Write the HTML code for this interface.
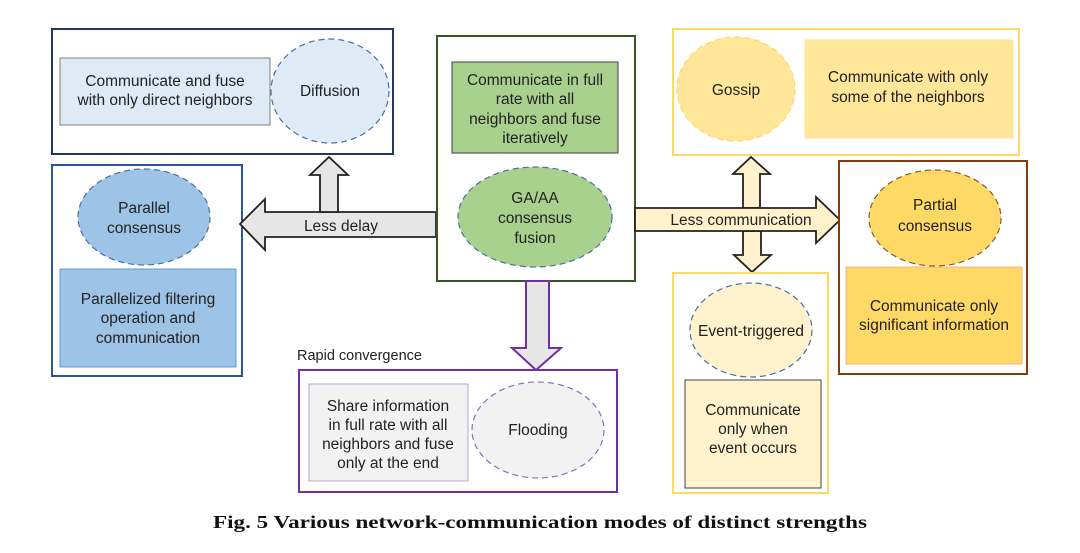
<!DOCTYPE html>
<html><head><meta charset="utf-8"><style>
html,body{margin:0;padding:0;background:#fff;}
svg{display:block;font-family:"Liberation Sans",Arial,sans-serif;}
text{fill:#222;font-size:15.5px;text-anchor:middle;}
</style></head><body>
<svg width="1080" height="553" viewBox="0 0 1080 553" xmlns="http://www.w3.org/2000/svg">
<!-- Diffusion -->
<rect x="52" y="29" width="341" height="125" fill="#fff" stroke="#1f3864" stroke-width="2"/>
<rect x="60" y="58" width="210" height="67" fill="#deebf7" stroke="#7f7f7f" stroke-width="1"/>
<text x="165" y="86">Communicate and fuse</text>
<text x="165" y="105">with only direct neighbors</text>
<ellipse cx="330" cy="91" rx="59" ry="52" fill="#deebf7" stroke="#4a6fa5" stroke-width="1.2" stroke-dasharray="6,4"/>
<text x="330" y="96">Diffusion</text>

<!-- Parallel -->
<rect x="52" y="165" width="190" height="211" fill="#fff" stroke="#2e5597" stroke-width="2"/>
<ellipse cx="144" cy="217" rx="66" ry="48" fill="#9dc3e6" stroke="#4a6fa5" stroke-width="1.2" stroke-dasharray="6,4"/>
<text x="144" y="213">Parallel</text>
<text x="144" y="233">consensus</text>
<rect x="60" y="269" width="176" height="98" fill="#9dc3e6" stroke="#5b9bd5" stroke-width="1"/>
<text x="148" y="304">Parallelized filtering</text>
<text x="148" y="323">operation and</text>
<text x="148" y="343">communication</text>

<!-- Left arrow -->
<polygon points="436,212 265,212 265,199 240,224 265,250 265,237 436,237" fill="#e7e6e6" stroke="#222" stroke-width="1.8"/>
<text x="341" y="231">Less delay</text>
<!-- Up arrow -->
<polygon points="320,212 320,175 310,175 329,157 348,175 338,175 338,212" fill="#e7e6e6" stroke="#222" stroke-width="1.8"/>

<!-- Green -->
<rect x="437" y="36" width="198" height="245" fill="#fff" stroke="#375623" stroke-width="2"/>
<rect x="452" y="62" width="166" height="91" fill="#a9d18e" stroke="#404040" stroke-width="1"/>
<text x="535" y="85">Communicate in full</text>
<text x="535" y="104">rate with all</text>
<text x="535" y="124">neighbors and fuse</text>
<text x="535" y="143">iteratively</text>
<ellipse cx="535" cy="217" rx="77" ry="50" fill="#a9d18e" stroke="#4a6fa5" stroke-width="1.2" stroke-dasharray="6,4"/>
<text x="535" y="203">GA/AA</text>
<text x="535" y="223">consensus</text>
<text x="535" y="243">fusion</text>

<!-- Down arrow -->
<polygon points="526,281 526,348 512,348 536,370 561,348 549,348 549,281" fill="#e7e6e6" stroke="#7030a0" stroke-width="2"/>
<text x="297" y="360" style="text-anchor:start;font-size:14.5px">Rapid convergence</text>

<!-- Flooding -->
<rect x="299" y="370" width="318" height="122" fill="#fff" stroke="#7030a0" stroke-width="2"/>
<rect x="309" y="384" width="159" height="97" fill="#f2f2f2" stroke="#b4a7d6" stroke-width="1"/>
<text x="388" y="411">Share information</text>
<text x="388" y="430">in full rate with all</text>
<text x="388" y="449">neighbors and fuse</text>
<text x="388" y="468">only at the end</text>
<ellipse cx="538" cy="430" rx="66" ry="48" fill="#f2f2f2" stroke="#8e6bbf" stroke-width="1.2" stroke-dasharray="6,4"/>
<text x="538" y="435">Flooding</text>

<!-- Gossip -->
<rect x="673" y="29" width="346" height="126" fill="#fff" stroke="#ffd966" stroke-width="2"/>
<ellipse cx="736" cy="89" rx="59" ry="52" fill="#ffe699" stroke="#ffd966" stroke-width="1.2" stroke-dasharray="6,4"/>
<text x="736" y="95">Gossip</text>
<rect x="805" y="40" width="208" height="98" fill="#ffe699" stroke="#ffe699"/>
<text x="908" y="82">Communicate with only</text>
<text x="908" y="102">some of the neighbors</text>

<!-- Right arrow with up/down -->
<polygon points="743,208 743,174 733,174 751,157 770,174 760,174 760,208" fill="#fff2cc" stroke="#222" stroke-width="1.8"/>
<polygon points="743,231 743,255 734,255 752,272 771,255 761,255 761,231" fill="#fff2cc" stroke="#222" stroke-width="1.8"/>
<polygon points="635,208 816,208 816,197 840,220 816,243 816,231 635,231" fill="#fff2cc" stroke="#222" stroke-width="1.8"/>
<text x="741" y="225">Less communication</text>

<!-- Partial -->
<rect x="839" y="161" width="188" height="213" fill="#fff" stroke="#843c0c" stroke-width="2"/>
<ellipse cx="935" cy="218" rx="66" ry="48" fill="#ffd966" stroke="#8a5a2b" stroke-width="1.2" stroke-dasharray="6,4"/>
<text x="935" y="210">Partial</text>
<text x="935" y="231">consensus</text>
<rect x="846" y="267" width="176" height="97" fill="#ffd966" stroke="#f4b183" stroke-width="1"/>
<text x="934" y="311">Communicate only</text>
<text x="934" y="330">significant information</text>

<!-- Event -->
<rect x="673" y="273" width="155" height="220" fill="#fff" stroke="#ffd966" stroke-width="2"/>
<ellipse cx="751" cy="330" rx="61" ry="47" fill="#fff2cc" stroke="#4a6fa5" stroke-width="1.2" stroke-dasharray="6,4"/>
<text x="751" y="336">Event-triggered</text>
<rect x="685" y="380" width="136" height="108" fill="#fff2cc" stroke="#404040" stroke-width="1"/>
<text x="753" y="415">Communicate</text>
<text x="753" y="434">only when</text>
<text x="753" y="453">event occurs</text>

<!-- Caption -->
<text x="540" y="528" textLength="654" lengthAdjust="spacingAndGlyphs" style="font-family:'Liberation Serif',serif;font-weight:bold;font-size:17.5px;fill:#111">Fig. 5  Various network-communication modes of distinct strengths</text>
</svg>
</body></html>
